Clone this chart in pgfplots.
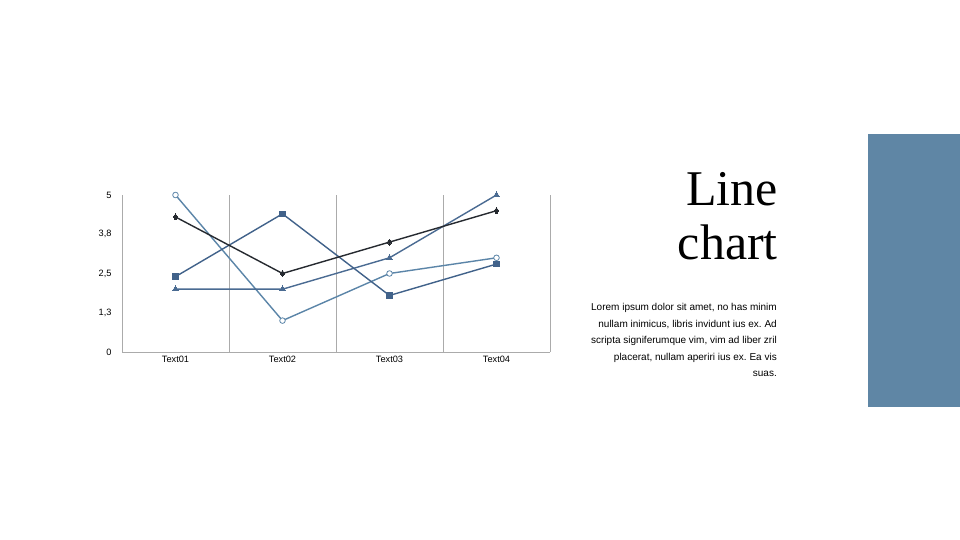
\documentclass[border=0pt]{standalone}
\usepackage{pgfplots}
\pgfplotsset{compat=1.18}
\usepackage{fontspec}
\setmainfont{Liberation Sans}
\newfontfamily\titlefont{Liberation Serif}
\frenchspacing

\definecolor{darkline}{HTML}{262A30}
\definecolor{sqline}{HTML}{41628A}
\definecolor{triline}{HTML}{4A6B92}
\definecolor{circline}{HTML}{5B85A8}
\definecolor{sidebar}{HTML}{5F86A5}
\definecolor{gridgray}{HTML}{ABABAB}

\begin{document}
\begin{tikzpicture}[x=1pt,y=1pt]
	\useasboundingbox (0,0) rectangle (960,540);
	\fill[white] (0,0) rectangle (960,540);

	\begin{axis}[
		at={(122pt,188pt)}, anchor=south west,
		scale only axis,
		width=428pt, height=157pt,
		xmin=0.5, xmax=4.5,
		ymin=0, ymax=5,
		axis x line*=bottom,
		axis y line*=left,
		axis line style={gridgray, line width=0.8pt, -},
		xtick={1,2,3,4},
		xticklabels={Text01,Text02,Text03,Text04},
		minor xtick={1.5,2.5,3.5,4.5},
		minor x grid style={gridgray, line width=0.8pt},
		xminorgrids=true,
		ytick={0,1.25,2.5,3.75,5},
		yticklabels={0,{1,3},{2,5},{3,8},5},
		major tick length=0pt,
		minor tick length=0pt,
		tick label style={font=\fontsize{9.2}{10}\selectfont, text=black},
		yticklabel style={xshift=-7pt},
		xticklabel style={yshift=-1pt},
		clip=false,
		every axis plot/.append style={line width=1.4pt},
		]

		\addplot[circline, mark=*, mark size=2.8pt,
			mark options={fill=white, line width=0.8pt}]
			coordinates {(1,5.0) (2,1.0) (3,2.5) (4,3.0)};

		\addplot[triline, mark=triangle*, mark size=3.3pt,
			mark options={line width=0pt}]
			coordinates {(1,2.0) (2,2.0) (3,3.0) (4,5.0)};

		\addplot[sqline, mark=square*, mark size=2.8pt,
			mark options={line width=0pt}]
			coordinates {(1,2.4) (2,4.4) (3,1.8) (4,2.8)};

		\addplot[darkline, mark=diamond*, mark size=3pt,
			mark options={line width=0pt}]
			coordinates {(1,4.3) (2,2.5) (3,3.5) (4,4.5)};
	\end{axis}

	% title and text block
	\node[anchor=base east, inner sep=0, font=\titlefont\fontsize{50}{52}\selectfont]
		at (778,334) {Line};
	\node[anchor=base east, inner sep=0, font=\titlefont\fontsize{50}{52}\selectfont]
		at (778,280) {chart};
	\node[anchor=north east, inner sep=0, align=right,
		font=\fontsize{10}{16.6}\selectfont]
		at (777,237) {Lorem ipsum dolor sit amet, no has minim\\
		nullam inimicus, libris invidunt ius ex. Ad\\
		scripta signiferumque vim, vim ad liber zril\\
		placerat, nullam aperiri ius ex. Ea vis\\
		suas.};

	% side bar
	\fill[sidebar] (868,133) rectangle (960,406);
\end{tikzpicture}
\end{document}
